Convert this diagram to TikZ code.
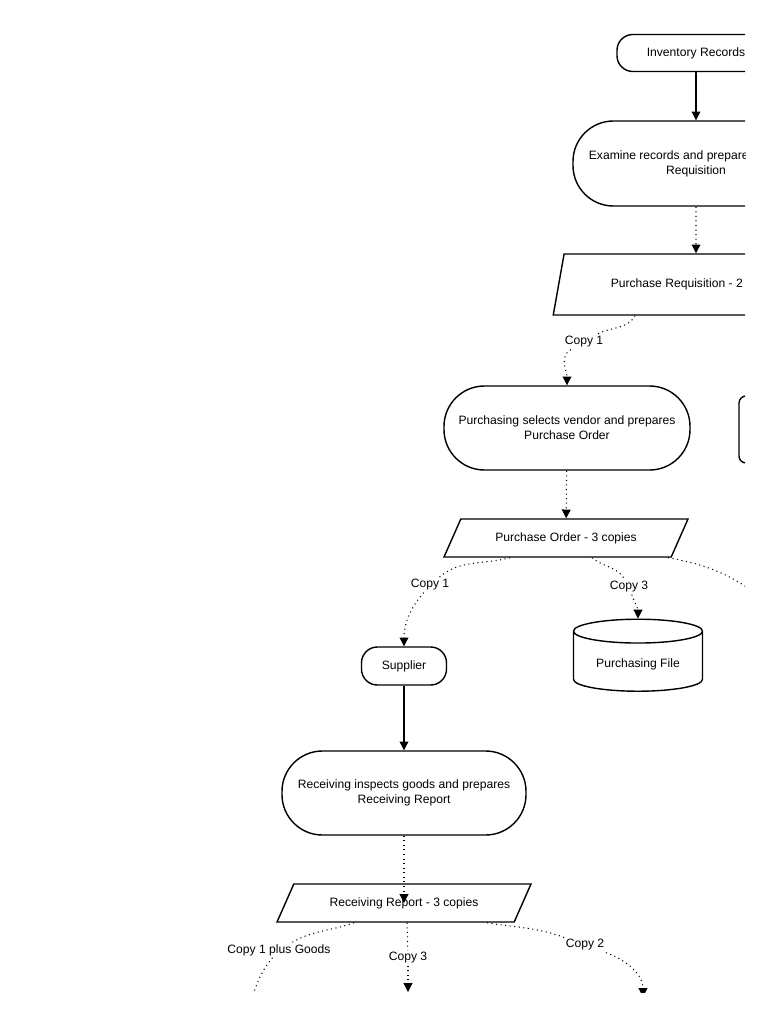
\documentclass[tikz,border=0pt]{standalone}
\usepackage{fontspec}
\setmainfont{Liberation Sans}
\usetikzlibrary{arrows.meta,shapes.geometric,calc}
\tikzset{
	flowbox/.style={
		rectangle,
		draw,
		thick,
		align=center,
		font=\fontsize{6.9}{8.5}\selectfont,
	},
	terminal/.style={
		flowbox,
		rounded corners=9pt,
	},
	process/.style={
		flowbox,
		rounded corners=23pt,
	},
	doc/.style={
		flowbox,
		trapezium,
		trapezium stretches=true,
		trapezium left angle=#1,
		trapezium right angle=180-#1,
		rounded corners=0pt,
	},
	store/.style={
		flowbox,
		cylinder,
		shape border rotate=90,
		aspect=0.25,
	},
	flow/.style={
		-{Triangle[width=5pt,length=5pt]},
		semithick,
	},
	copyline/.style={
		semithick,
		dotted,
	},
	copyflow/.style={
		flow,
		dotted,
	},
	copylabel/.style={
		font=\fontsize{6.9}{8.5}\selectfont,
		fill=white,
		inner sep=1pt,
	},
}
\begin{document}
\begin{tikzpicture}[x=0.02cm,y=-0.02cm]
	\useasboundingbox (0,0) rectangle (768,1024);
	\clip (0,0) rectangle (745,992);
	% documents and steps
	\node[terminal,minimum width=158*0.02cm,minimum height=37*0.02cm] (inv) at (696,53) {Inventory Records};
	\node[process,minimum width=246*0.02cm,minimum height=85*0.02cm] (exam) at (696,163.5) {Examine records and prepare Purchase\\Requisition};
	\node[doc=72,minimum width=286*0.02cm,minimum height=61*0.02cm] (req) at (696,284.5) {Purchase Requisition - 2 copies};
	\node[process,minimum width=246*0.02cm,minimum height=84*0.02cm] (pur) at (567,428) {Purchasing selects vendor and prepares\\Purchase Order};
	\node[flowbox,rounded corners=4pt,minimum width=122*0.02cm,minimum height=67*0.02cm] (side) at (800,429.5) {};
	\node[doc=62,minimum width=244*0.02cm,minimum height=38*0.02cm] (po) at (566,538) {Purchase Order - 3 copies};
	\node[terminal,minimum width=85*0.02cm,minimum height=38*0.02cm] (sup) at (404,666) {Supplier};
	\node[store,minimum width=129*0.02cm,minimum height=72*0.02cm] (file) at (638,664) {Purchasing File};
	\node[process,minimum width=244*0.02cm,minimum height=84*0.02cm] (rec) at (404,793) {Receiving inspects goods and prepares\\Receiving Report};
	\node[doc=62,minimum width=254*0.02cm,minimum height=38*0.02cm] (rr) at (404,903) {Receiving Report - 3 copies};

	% copy labels
	\node[copylabel] (c1) at (584,342) {Copy 1};
	\node[copylabel] (poc1) at (430,585) {Copy 1};
	\node[copylabel] (poc3) at (629,587) {Copy 3};
	\node[copylabel] (rrc1) at (279,950) {Copy 1 plus Goods};
	\node[copylabel] (rrc3) at (408,958) {Copy 3};
	\node[copylabel] (rrc2) at (585,945) {Copy 2};
	\coordinate (poout) at (770,605);
	\coordinate (rr1end) at (245,1020);
	\coordinate (rr3end) at (408,992);
	\coordinate (rr2end) at (643,997);

	\draw[flow] (inv) -- (exam);
	\draw[copyflow] (exam) -- (req);
	\draw[copyline] ($(req.south)+(-61,0)$) to[out=-120,in=30] (c1);
	\draw[copyflow] (c1) to[out=-150,in=90] (pur.north);
	\draw[copyflow] (pur) -- (po);
	\draw[copyline] ($(po.south)+(-56,0)$) to[out=-165,in=40] (poc1);
	\draw[copyflow] (poc1) to[out=-130,in=90] (sup.north);
	\draw[copyline] ($(po.south)+(26,0)$) to[out=-40,in=120] (poc3);
	\draw[copyflow] (poc3) to[out=-70,in=90] (file.north);
	\draw[copyline] ($(po.south)+(102,0)$) to[out=-10,in=140] (poout);
	\draw[flow] (sup) -- (rec);
	\draw[copyflow] (rec.south) -- (rr.center);
	\draw[copyline] ($(rr.south)+(-50,0)$) to[out=-160,in=30] (rrc1);
	\draw[copyline] (rrc1) to[out=-130,in=70] (rr1end);
	\draw[copyline] ($(rr.south)+(3,0)$) -- (rrc3);
	\draw[copyflow] (rrc3) -- (rr3end);
	\draw[copyline] ($(rr.south)+(83,0)$) to[out=-10,in=160] (rrc2);
	\draw[copyflow] (rrc2) to[out=-20,in=90] (rr2end);
\end{tikzpicture}
\end{document}
